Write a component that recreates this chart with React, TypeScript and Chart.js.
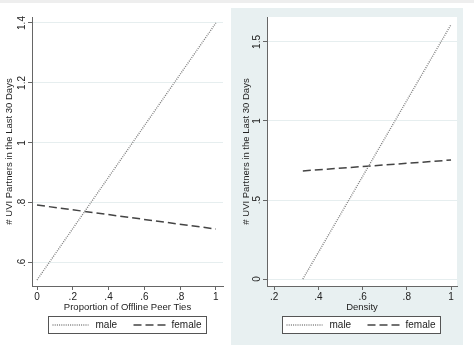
import React, { useEffect, useRef } from "react";
import { Chart, registerables } from "chart.js";
Chart.register(...registerables);

// ---- data ----
const seriesLabels = ["male", "female"];
const yTitle = "# UVI Partners in the Last 30 Days";

const leftXTitle = "Proportion of Offline Peer Ties";
const leftX = [0, 1];
const leftMale = [0.543, 1.4];
const leftFemale = [0.793, 0.713];
const leftXTicks = [0, 0.2, 0.4, 0.6, 0.8, 1];
const leftYTicks = [0.6, 0.8, 1, 1.2, 1.4];

const rightXTitle = "Density";
const rightX = [0.33, 1];
const rightMale = [0, 1.61];
const rightFemale = [0.684, 0.753];
const rightXTicks = [0.2, 0.4, 0.6, 0.8, 1];
const rightYTicks = [0, 0.5, 1, 1.5];

const FONT = "'Liberation Sans', Arial, Helvetica, sans-serif";
const TEXT = "#222";
const AXIS = "#666";
const GRID = "#e6eeef";
const MALE_COLOR = "#808080";
const FEMALE_COLOR = "#444";
const MALE_DASH = [1, 1.2];
const FEMALE_DASH = [8, 4];

const fmt = (v: number) => {
  const s = String(Math.round(v * 1000) / 1000);
  return s.startsWith("0.") ? s.slice(1) : s;
};

type PanelProps = {
  width: number;
  left: number;
  xVals: number[];
  male: number[];
  female: number[];
  xTicks: number[];
  yTicks: number[];
  xMin: number;
  xMax: number;
  yMin: number;
  yMax: number;
  xTitle: string;
  padLeft: number;
  padRight: number;
  titlePad: number;
  plotBg: boolean;
};

function Panel(p: PanelProps) {
  const ref = useRef<HTMLCanvasElement | null>(null);
  useEffect(() => {
    if (!ref.current) return;
    const panelPlugin = {
      id: "stataPanel",
      beforeDraw(chart: any) {
        if (!p.plotBg) return;
        const { ctx, chartArea } = chart;
        ctx.save();
        ctx.fillStyle = "#ffffff";
        ctx.fillRect(chartArea.left, chartArea.top, chartArea.right - chartArea.left, chartArea.bottom - chartArea.top);
        ctx.restore();
      },
      afterDraw(chart: any) {
        const { ctx, chartArea } = chart;
        // rotated y tick labels, positioned by the y scale
        const ys = chart.scales.y;
        ctx.save();
        ctx.font = `10px ${FONT}`;
        ctx.fillStyle = TEXT;
        ctx.textAlign = "center";
        ctx.textBaseline = "middle";
        for (const v of p.yTicks) {
          const py = ys.getPixelForValue(v);
          ctx.setTransform(1, 0, 0, 1, 0, 0);
          ctx.translate(ys.right - 9.5, py);
          ctx.rotate(-Math.PI / 2);
          ctx.fillText(fmt(v), 0, 0);
        }
        ctx.restore();

        // legend
        const cx = (chartArea.left + chartArea.right) / 2;
        const bw = 158;
        const bx = Math.round(cx - bw / 2 - 1) + 0.5;
        const by = 316.5;
        const bh = 17;
        ctx.save();
        ctx.fillStyle = "#ffffff";
        ctx.fillRect(bx, by, bw, bh);
        ctx.strokeStyle = "#555";
        ctx.lineWidth = 1;
        ctx.strokeRect(bx, by, bw, bh);
        const my = by + bh / 2;
        ctx.beginPath();
        ctx.setLineDash(MALE_DASH);
        ctx.strokeStyle = MALE_COLOR;
        ctx.lineWidth = 1.4;
        ctx.moveTo(bx + 4, my);
        ctx.lineTo(bx + 40, my);
        ctx.stroke();
        ctx.beginPath();
        ctx.setLineDash(FEMALE_DASH);
        ctx.strokeStyle = FEMALE_COLOR;
        ctx.lineWidth = 1.5;
        ctx.moveTo(bx + 85, my);
        ctx.lineTo(bx + 118, my);
        ctx.stroke();
        ctx.setLineDash([]);
        ctx.fillStyle = TEXT;
        ctx.font = `10px ${FONT}`;
        ctx.textBaseline = "middle";
        ctx.textAlign = "left";
        ctx.fillText(seriesLabels[0], bx + 47, my + 0.5);
        ctx.fillText(seriesLabels[1], bx + 123, my + 0.5);
        ctx.restore();
      },
    };
    const chart = new Chart(ref.current, {
      type: "line",
      data: {
        datasets: [
          {
            label: seriesLabels[0],
            data: p.xVals.map((x, i) => ({ x, y: p.male[i] })),
            borderColor: MALE_COLOR,
            borderWidth: 1.4,
            borderDash: MALE_DASH,
            pointRadius: 0,
            fill: false,
          },
          {
            label: seriesLabels[1],
            data: p.xVals.map((x, i) => ({ x, y: p.female[i] })),
            borderColor: FEMALE_COLOR,
            borderWidth: 1.5,
            borderDash: FEMALE_DASH,
            pointRadius: 0,
            fill: false,
          },
        ],
      },
      options: {
        animation: false,
        responsive: false,
        maintainAspectRatio: false,
        layout: { padding: { left: p.padLeft, right: p.padRight, top: 17, bottom: 37 } },
        plugins: { legend: { display: false }, tooltip: { enabled: false } },
        scales: {
          x: {
            type: "linear",
            min: p.xMin,
            max: p.xMax,
            afterBuildTicks: (s: any) => {
              s.ticks = p.xTicks.map((v) => ({ value: v }));
            },
            afterFit: (s: any) => {
              s.height = 30;
            },
            grid: { drawOnChartArea: false, drawTicks: true, tickLength: 4, tickColor: AXIS },
            border: { color: AXIS, width: 1 },
            ticks: {
              font: { family: FONT, size: 10 },
              color: TEXT,
              padding: 1,
              autoSkip: false,
              maxRotation: 0,
              callback: (v: any) => fmt(Number(v)),
            },
            title: {
              display: true,
              text: p.xTitle,
              font: { family: FONT, size: 9.5 },
              color: TEXT,
              padding: { top: 0, bottom: 3 },
            },
          },
          y: {
            type: "linear",
            min: p.yMin,
            max: p.yMax,
            afterBuildTicks: (s: any) => {
              s.ticks = p.yTicks.map((v) => ({ value: v }));
            },
            afterFit: (s: any) => {
              s.width = 32;
            },
            grid: { color: GRID, lineWidth: 1, drawTicks: true, tickLength: 4, tickColor: AXIS },
            border: { color: AXIS, width: 1 },
            ticks: { display: false, autoSkip: false },
            title: {
              display: true,
              text: yTitle,
              font: { family: FONT, size: 9.5 },
              color: TEXT,
              padding: { top: p.titlePad, bottom: 0 },
            },
          },
        },
      } as any,
      plugins: [panelPlugin],
    });
    return () => chart.destroy();
  }, []);
  return (
    <canvas
      ref={ref}
      width={p.width}
      height={353}
      style={{ position: "absolute", left: p.left, top: 0, width: p.width, height: 353 }}
    />
  );
}

export default function App() {
  useEffect(() => {
    document.body.style.margin = "0";
  }, []);
  return (
    <div style={{ position: "relative", width: 474, height: 353, background: "#fff", overflow: "hidden" }}>
      <div style={{ position: "absolute", left: 0, top: 0, width: 474, height: 3, background: "#eeeeee" }} />
      <div style={{ position: "absolute", left: 231, top: 8, width: 232, height: 337, background: "#e8f0f1" }} />
      <Panel
        width={231}
        left={0}
        xVals={leftX}
        male={leftMale}
        female={leftFemale}
        xTicks={leftXTicks}
        yTicks={leftYTicks}
        xMin={-0.028}
        xMax={1.04}
        yMin={0.523}
        yMax={1.42}
        xTitle={leftXTitle}
        padLeft={0}
        padRight={8}
        titlePad={4}
        plotBg={false}
      />
      <Panel
        width={243}
        left={231}
        xVals={rightX}
        male={rightMale}
        female={rightFemale}
        xTicks={rightXTicks}
        yTicks={rightYTicks}
        xMin={0.168}
        xMax={1.027}
        yMin={-0.044}
        yMax={1.658}
        xTitle={rightXTitle}
        padLeft={4}
        padRight={17}
        titlePad={6}
        plotBg={true}
      />
    </div>
  );
}
